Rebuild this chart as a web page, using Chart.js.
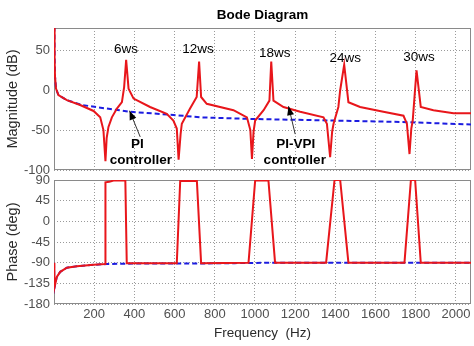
<!DOCTYPE html>
<html><head><meta charset="utf-8">
<script src="https://cdn.jsdelivr.net/npm/chart.js@4/dist/chart.umd.min.js"></script>
<style>
html,body{margin:0;padding:0;background:#fff;}
#wrap{position:relative;width:474px;height:346px;overflow:hidden;}
#c1{position:absolute;left:0;top:0;}
#c2{position:absolute;left:0;top:174px;}
</style></head><body>
<div id="wrap"><canvas id="c1" width="474" height="174"></canvas><canvas id="c2" width="474" height="172"></canvas></div>
<script>
// ---------- data ----------
const magFreqVPI = [1,3,5,10,22,64,130,197,230,246,256,262,271,288,313,338,349,359,371,396,478,561,594,611,620,630,636,677,710,722,732,760,893,960,977,985,993,1001,1043,1072,1081,1092,1142,1225,1341,1358,1374,1384,1391,1415,1424,1444,1465,1523,1639,1739,1756,1769,1778,1785,1794,1804,1825,1888,1988,2075];
const magVPI     = [110,40,17,2,-6,-12.5,-18.5,-26,-34,-50,-89,-60,-46,-34,-23,-15,4,38,2,-10.5,-21,-29.5,-38,-48,-87,-55,-42,-23,-8.5,36,-8.5,-17,-25,-34,-50,-86,-52,-38,-25,-13,36,-13,-21,-27,-34,-42,-84,-52,-42,-21,0,32,-15,-21,-27,-32,-42,-80,-48,-38,-8,25,-21,-25,-29,-29];
const magFreqPI  = [1,3,5,10,22,64,139,263,379,594,727,976,1391,1756,2075];
const magPI      = [110,40,17,2,-6,-12.5,-18.5,-23,-27,-31,-34,-36,-38,-40,-43];
const phFreqVPI  = [0,2,14,31,64,114,197,254,256,275,296,355,362,611,628,711,732,968,1001,1067,1100,1354,1396,1424,1465,1744,1776,1797,1825,2075];
const phVPI      = [-90,-145,-121,-110,-101,-97.6,-94.6,-93,85,86,89,89,-91,-91,88,88,-91,-90,89,89,-90,-90,90,90,-90,-90,90,90,-90,-90];
const phFreqPI   = [0,2,14,31,64,114,197,263,400,700,900,1100,2075];
const phPI       = [-90,-145,-121,-110,-101,-97.6,-94.6,-93,-92,-92,-91,-90,-90];
const freqTicks  = [200,400,600,800,1000,1200,1400,1600,1800,2000];
const magTicks   = [-100,-50,0,50];
const phaseTicks = [-180,-135,-90,-45,0,45,90];
const harmonicLabels = ['6ws','12ws','18ws','24ws','30ws'];

// ---------- layout / style ----------
const harmonicLabelPos = [[358,51],[717,51],[1099,46.5],[1449,40],[1816,41]];
const FONT = "'Liberation Sans', Arial, Helvetica, sans-serif";
const RED = '#e8161b', BLUE = '#1c1ce0';
const GRID = '#9a9a9a', BOX = '#8a8a8a', TICK = '#505050', TITLE = '#2a2a2a';
Chart.defaults.font.family = FONT;

const pts = (xs, ys) => xs.map((x, i) => ({x, y: ys[i]}));
const setTicks = arr => s => { s.ticks = arr.map(v => ({value: v})); };
const noPad = s => { s.paddingTop = 0; s.paddingBottom = 0; s.paddingLeft = 0; s.paddingRight = 0; };

const boxPlugin = {
  id: 'box',
  beforeDatasetsDraw(chart) {
    const {ctx, chartArea: a} = chart;
    ctx.save();
    ctx.strokeStyle = BOX; ctx.lineWidth = 1;
    ctx.strokeRect(Math.round(a.left) + 0.5, Math.round(a.top) + 0.5,
                   Math.round(a.right - a.left) - 1, Math.round(a.bottom - a.top) - 1);
    ctx.restore();
  }
};

function arrow(ctx, x1, y1, x2, y2) {
  ctx.save();
  ctx.strokeStyle = '#333'; ctx.lineWidth = 1;
  ctx.beginPath(); ctx.moveTo(x1, y1); ctx.lineTo(x2, y2); ctx.stroke();
  const ang = Math.atan2(y2 - y1, x2 - x1), L = 9, W = 3.5;
  const bx = x2 - L * Math.cos(ang), by = y2 - L * Math.sin(ang);
  ctx.fillStyle = '#000';
  ctx.beginPath();
  ctx.moveTo(x2, y2);
  ctx.lineTo(bx + W * Math.sin(ang), by - W * Math.cos(ang));
  ctx.lineTo(bx - W * Math.sin(ang), by + W * Math.cos(ang));
  ctx.closePath(); ctx.fill();
  ctx.restore();
}

const annotPlugin = {
  id: 'annot',
  afterDraw(chart) {
    const {ctx, scales: {x, y}, chartArea: a} = chart;
    const X = v => x.getPixelForValue(v), Y = v => y.getPixelForValue(v);
    ctx.save();
    ctx.textAlign = 'center'; ctx.textBaseline = 'middle';
    ctx.fillStyle = '#000';
    ctx.font = 'bold 13.5px ' + FONT;
    ctx.fillText('Bode Diagram', (a.left + a.right) / 2, 15);
    ctx.font = '13.5px ' + FONT;
    harmonicLabels.forEach((t, i) => ctx.fillText(t, X(harmonicLabelPos[i][0]), Y(harmonicLabelPos[i][1])));
    ctx.font = 'bold 13.5px ' + FONT;
    ctx.fillText('PI', X(415), Y(-67.6));
    ctx.fillText('controller', X(432), Y(-87.8));
    ctx.fillText('PI-VPI', X(1203), Y(-67.6));
    ctx.fillText('controller', X(1198), Y(-87.8));
    ctx.restore();
    arrow(ctx, X(429), Y(-58.5), X(376), Y(-25.7));
    arrow(ctx, X(1200), Y(-55), X(1167), Y(-20));
  }
};

const common = {
  animation: false, responsive: false, devicePixelRatio: 1,
  plugins: {legend: {display: false}, tooltip: {enabled: false}, title: {display: false}},
  elements: {point: {radius: 0}, line: {tension: 0}},
};

const xScale = (showTicks) => ({
  type: 'linear', min: 0, max: 2075,
  afterBuildTicks: setTicks(freqTicks),
  ticks: {display: showTicks, color: TICK, font: {size: 13}, padding: 3, maxRotation: 0, autoSkip: false, callback: v => String(v)},
  grid: {color: GRID, drawTicks: false, lineWidth: 1},
  border: {display: false, dash: [1, 2]},
  title: showTicks ? {display: true, text: 'Frequency  (Hz)', color: TITLE, font: {size: 13.5}, padding: {top: 0, bottom: 5}} : {display: false},
  afterFit: s => { s.height = showTicks ? 42 : 4; noPad(s); }
});

const yScale = (min, max, ticks, title) => ({
  min, max,
  afterBuildTicks: setTicks(ticks),
  ticks: {color: TICK, font: {size: 13}, padding: 4, callback: v => String(v)},
  grid: {color: GRID, drawTicks: false},
  border: {display: false, dash: [1, 2]},
  title: {display: true, text: title, color: TITLE, font: {size: 14.5}, padding: {top: 4, bottom: 0}},
  afterFit: s => { s.width = 54; noPad(s); }
});

new Chart(document.getElementById('c1'), {
  type: 'line',
  data: {datasets: [
    {data: pts(magFreqVPI, magVPI), borderColor: RED, borderWidth: 2},
    {data: pts(magFreqPI, magPI), borderColor: BLUE, borderWidth: 2, borderDash: [5, 3]}
  ]},
  options: Object.assign({}, common, {
    layout: {padding: {top: 28, right: 3, left: 0, bottom: 0}},
    scales: {x: xScale(false), y: yScale(-100, 78, magTicks, 'Magnitude (dB)')}
  }),
  plugins: [boxPlugin, annotPlugin]
});

new Chart(document.getElementById('c2'), {
  type: 'line',
  data: {datasets: [
    {data: pts(phFreqVPI, phVPI), borderColor: RED, borderWidth: 2},
    {data: pts(phFreqPI, phPI), borderColor: BLUE, borderWidth: 2, borderDash: [5, 3]}
  ]},
  options: Object.assign({}, common, {
    layout: {padding: {top: 6, right: 3, left: 0, bottom: 0}},
    scales: {x: xScale(true), y: yScale(-180, 90, phaseTicks, 'Phase (deg)')}
  }),
  plugins: [boxPlugin]
});
</script>
</body></html>
